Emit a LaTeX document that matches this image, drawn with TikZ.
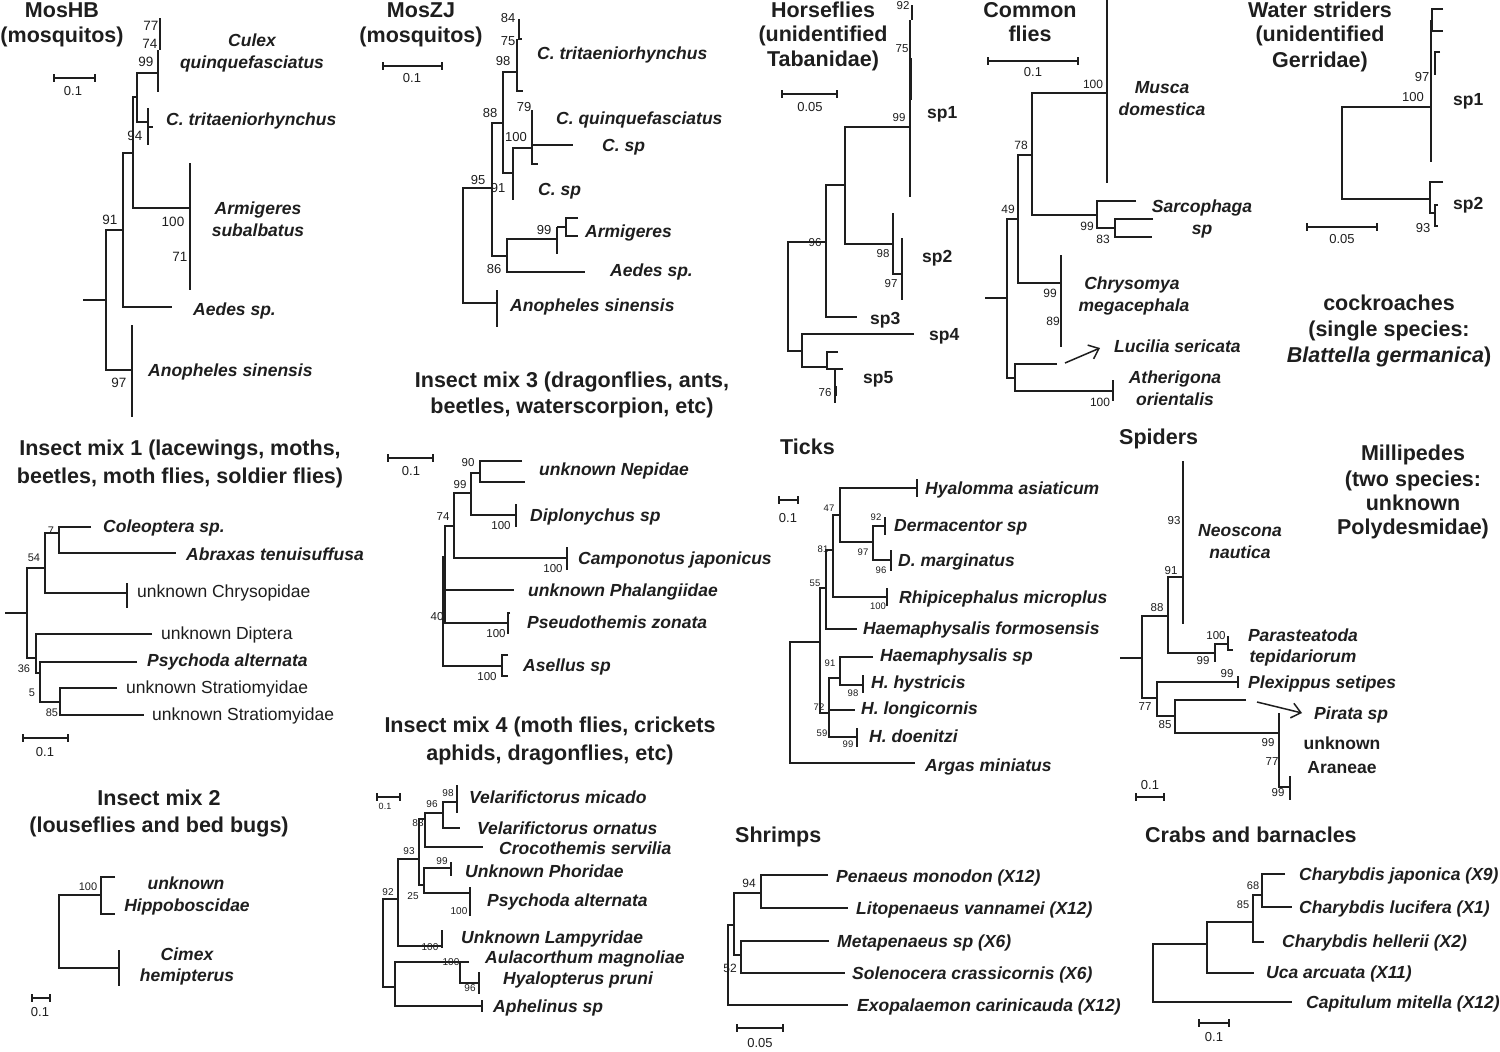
\documentclass[tikz,border=0pt]{standalone}
\usepackage{fontspec}
\setmainfont{Liberation Sans}
\usetikzlibrary{arrows.meta}
\definecolor{ink}{HTML}{1E1E1E}
\tikzset{
  br/.style={line width=1.7pt, draw=ink},
  thk/.style={line width=2.5pt, draw=ink},
  ttl/.style={font=\bfseries\fontsize{21.5}{24}\selectfont, text=ink, inner sep=0pt, text height=15.5pt, text depth=0pt},
  lb/.style={font=\bfseries\itshape\fontsize{17.5}{20}\selectfont, text=ink, inner sep=0pt, text height=12.6pt, text depth=0pt, anchor=west},
  lbc/.style={lb, anchor=center},
  lr/.style={font=\fontsize{17.5}{20}\selectfont, text=ink, inner sep=0pt, text height=12.6pt, text depth=0pt, anchor=west},
  lu/.style={font=\bfseries\fontsize{17.5}{20}\selectfont, text=ink, inner sep=0pt, text height=12.6pt, text depth=0pt, anchor=west},
  luc/.style={lu, anchor=center},
  bs/.style={font=\fontsize{#1}{#1}\selectfont, text=ink, inner sep=0pt},
  arr/.style={line width=1.5pt, draw=ink, -{Straight Barb[length=9pt,width=15pt,line width=1.5pt]}}
}
\newcommand\mybar[3]{\draw[br] (#1,#3) -- (#2,#3); \draw[br] (#1,#3-4) -- (#1,#3+4); \draw[br] (#2,#3-4) -- (#2,#3+4);}
\begin{document}
\begin{tikzpicture}[x=1pt,y=-1pt]
\fill[white] (0,0) rectangle (1500,1052);
\useasboundingbox (0,0) rectangle (1500,1052);

%================ MosHB
\node[ttl] (hbT1) at (62,10) {MosHB};
\node[ttl] (hbT2) at (62,35) {(mosquitos)};
\mybar{54}{95}{78}
\node[bs=13] (hbS) at (73,91) {0.1};
\draw[br] (83,300) -- (106,300);
\draw[br] (123,230) -| (106,370) -- (132,370);
\draw[br] (132,325) -- (132,417);
\draw[br] (133,153) -| (123,307) -- (172,307);
\draw[br] (137,97) -| (133,208) -- (190,208);
\draw[br] (190,163) -- (190,290);
\draw[thk] (190,165) -- (190,245);
\draw[br] (158,73) -| (137,122) -- (148,122);
\draw[br] (160,18) -- (160,50);
\draw[br] (158,50) -- (158,92);
\draw[thk] (158,50) -- (158,72);
\draw[br] (148,108) -- (148,145);
\draw[br] (148,127) -- (153,127);
\node[lbc] (hbL1) at (252,40) {Culex};
\node[lbc] (hbL2) at (252,62) {quinquefasciatus};
\node[lb] (hbL3) at (166,119) {C. tritaeniorhynchus};
\node[lbc] (hbL4) at (258,208) {Armigeres};
\node[lbc] (hbL5) at (258,230) {subalbatus};
\node[lb] (hbL6) at (193,309) {Aedes sp.};
\node[lb] (hbL7) at (148,370) {Anopheles sinensis};
\node[bs=13.5] (hb1) at (151,26) {77};
\node[bs=13.5] (hb2) at (150,44) {74};
\node[bs=13.5] (hb3) at (146,62) {99};
\node[bs=13.5] (hb4) at (135,136) {94};
\node[bs=13.5] (hb5) at (110,220) {91};
\node[bs=13.5] (hb6) at (173,222) {100};
\node[bs=13.5] (hb7) at (180,257) {71};
\node[bs=13.5] (hb8) at (119,383) {97};

%================ MosZJ
\node[ttl] (zjT1) at (421,10) {MosZJ};
\node[ttl] (zjT2) at (421,35) {(mosquitos)};
\mybar{383}{442}{66}
\node[bs=13] (zjS) at (412,78) {0.1};
\draw[br] (492,188) -| (463,303) -- (497,303);
\draw[br] (497,290) -- (497,327);
\draw[thk] (497,305) -- (497,327);
\draw[br] (503,123) -| (492,256) -- (507,256);
\draw[br] (557,239) -| (507,272) -- (585,272);
\draw[br] (557,227) -- (557,254);
\draw[br] (557,227) -- (566,227);
\draw[br] (578,218) -| (566,236) -- (578,236);
\draw[br] (517,72) -| (503,173) -- (513,173);
\draw[br] (519,19) -- (519,39) -- (522,39);
\draw[br] (517,39) -- (517,91) -- (523,91);
\draw[thk] (517,50) -- (517,73);
\draw[br] (532,148) -| (513,200);
\draw[br] (532,110) -- (532,164) -- (538,164);
\draw[thk] (532,113) -- (532,137);
\draw[br] (532,145) -- (573,145);
\node[lb] (zjL1) at (537,53) {C. tritaeniorhynchus};
\node[lb] (zjL2) at (556,118) {C. quinquefasciatus};
\node[lb] (zjL3) at (602,145) {C. sp};
\node[lb] (zjL4) at (538,189) {C. sp};
\node[lb] (zjL5) at (585,231) {Armigeres};
\node[lb] (zjL6) at (610,270) {Aedes sp.};
\node[lb] (zjL7) at (510,305) {Anopheles sinensis};
\node[bs=13] (zj1) at (508,18) {84};
\node[bs=13] (zj2) at (508,41) {75};
\node[bs=13] (zj3) at (503,61) {98};
\node[bs=13] (zj4) at (490,113) {88};
\node[bs=13] (zj5) at (524,107) {79};
\node[bs=13] (zj6) at (516,137) {100};
\node[bs=13] (zj7) at (478,180) {95};
\node[bs=13] (zj8) at (498,188) {91};
\node[bs=13] (zj9) at (544,230) {99};
\node[bs=13] (zj10) at (494,269) {86};

%================ Horseflies
\node[ttl] (hfT1) at (823,10) {Horseflies};
\node[ttl] (hfT2) at (823,34) {(unidentified};
\node[ttl] (hfT3) at (823,59) {Tabanidae)};
\mybar{782}{837}{94}
\node[bs=13] (hfS) at (810,107) {0.05};
\draw[br] (826,242) -| (788,351) -- (802,351);
\draw[br] (845,185) -| (826,317) -- (857,317);
\draw[br] (910,127) -| (845,244) -- (893,244);
\draw[br] (912,5) -- (912,20);
\draw[br] (910,20) -- (910,197);
\draw[thk] (911,58) -- (911,100);
\draw[br] (893,213) -- (893,274) -- (902,274);
\draw[br] (902,238) -- (902,300);
\draw[br] (914,334) -| (802,367) -- (827,367);
\draw[br] (838,352) -| (827,369) -- (835,369);
\draw[br] (843,369) -| (835,403);
\draw[thk] (836,386) -- (836,396);
\node[lu] (hfL1) at (927,112) {sp1};
\node[lu] (hfL2) at (922,256) {sp2};
\node[lu] (hfL3) at (870,318) {sp3};
\node[lu] (hfL4) at (929,334) {sp4};
\node[lu] (hfL5) at (863,377) {sp5};
\node[bs=11.5] (hf1) at (903,6) {92};
\node[bs=11.5] (hf2) at (902,49) {75};
\node[bs=11.5] (hf3) at (899,118) {99};
\node[bs=11.5] (hf4) at (815,243) {96};
\node[bs=11.5] (hf5) at (883,254) {98};
\node[bs=11.5] (hf6) at (891,284) {97};
\node[bs=11.5] (hf7) at (825,393) {76};

%================ Common flies
\node[ttl] (cfT1) at (1030,10) {Common};
\node[ttl] (cfT2) at (1030,34) {flies};
\mybar{988}{1078}{61}
\node[bs=13] (cfS) at (1033,72) {0.1};
\draw[br] (985,298) -- (1007,298);
\draw[br] (1018,219) -| (1007,378) -- (1015,378);
\draw[br] (1032,155) -| (1018,283) -- (1061,283);
\draw[br] (1107,93) -| (1032,215) -- (1097,215);
\draw[br] (1107,0) -- (1107,183);
\draw[br] (1136,201) -| (1097,228) -- (1115,228);
\draw[br] (1153,219) -| (1115,237) -- (1152,237);
\draw[br] (1061,255) -- (1061,347);
\draw[thk] (1061,270) -- (1061,300);
\draw[br] (1057,364) -| (1015,391) -- (1113,391);
\draw[br] (1113,380) -- (1113,401);
\coordinate (cfA1) at (1065,363);
\coordinate (cfA2) at (1100,348);
\draw[arr] (cfA1) -- (cfA2);
\node[lbc] (cfL1) at (1162,87) {Musca};
\node[lbc] (cfL2) at (1162,109) {domestica};
\node[lbc] (cfL3) at (1202,206) {Sarcophaga};
\node[lbc] (cfL4) at (1202,228) {sp};
\node[lbc] (cfL5) at (1132,283) {Chrysomya};
\node[lbc] (cfL6) at (1134,305) {megacephala};
\node[lb] (cfL7) at (1114,346) {Lucilia sericata};
\node[lbc] (cfL8) at (1175,377) {Atherigona};
\node[lbc] (cfL9) at (1175,399) {orientalis};
\node[bs=12] (cf1) at (1093,84) {100};
\node[bs=12] (cf2) at (1021,145) {78};
\node[bs=12] (cf3) at (1008,209) {49};
\node[bs=12] (cf4) at (1087,226) {99};
\node[bs=12] (cf5) at (1103,239) {83};
\node[bs=12] (cf6) at (1050,293) {99};
\node[bs=12] (cf7) at (1053,321) {89};
\node[bs=12] (cf8) at (1100,402) {100};

%================ Water striders
\node[ttl] (wsT1) at (1320,10) {Water striders};
\node[ttl] (wsT2) at (1320,34) {(unidentified};
\node[ttl] (wsT3) at (1320,60) {Gerridae)};
\mybar{1307}{1377}{227}
\node[bs=13] (wsS) at (1342,239) {0.05};
\draw[br] (1431,107) -| (1342,199) -- (1430,199);
\draw[br] (1431,20) -- (1431,162);
\draw[thk] (1431,62) -- (1431,118);
\draw[br] (1431,20) -- (1432,20);
\draw[br] (1443,9) -| (1432,31) -- (1443,31);
\draw[br] (1440,52) -| (1435,75);
\draw[br] (1443,182) -| (1430,213) -- (1435,213);
\draw[br] (1438,205) -| (1435,226) -- (1438,226);
\node[lu] (wsL1) at (1453,99) {sp1};
\node[lu] (wsL2) at (1453,203) {sp2};
\node[bs=13] (ws1) at (1422,77) {97};
\node[bs=13] (ws2) at (1413,97) {100};
\node[bs=13] (ws3) at (1423,228) {93};

%================ Cockroaches
\node[ttl] (crT1) at (1389,303) {cockroaches};
\node[ttl] (crT2) at (1389,329) {(single species:};
\node[ttl] (crT3) at (1389,355) {{\itshape Blattella germanica})};

%================ Insect mix 1
\node[ttl] (m1T1) at (180,448) {Insect mix 1 (lacewings, moths,};
\node[ttl] (m1T2) at (180,476) {beetles, moth flies, soldier flies)};
\mybar{23}{68}{738}
\node[bs=13] (m1S) at (45,752) {0.1};
\draw[br] (5,613) -- (27,613);
\draw[br] (45,568) -| (27,658) -- (36,658);
\draw[br] (59,533) -| (45,593) -- (127,593);
\draw[br] (127,583) -- (127,608);
\draw[br] (91,527) -| (59,553) -- (176,553);
\draw[br] (152,634) -| (36,673) -- (40,673);
\draw[br] (137,662) -| (40,702) -- (60,702);
\draw[br] (117,688) -| (60,715) -- (144,715);
\node[lb] (m1L1) at (103,526) {Coleoptera sp.};
\node[lb] (m1L2) at (186,554) {Abraxas tenuisuffusa};
\node[lr] (m1L3) at (137,591) {unknown Chrysopidae};
\node[lr] (m1L4) at (161,633) {unknown Diptera};
\node[lb] (m1L5) at (147,660) {Psychoda alternata};
\node[lr] (m1L6) at (126,687) {unknown Stratiomyidae};
\node[lr] (m1L7) at (152,714) {unknown Stratiomyidae};
\node[bs=11] (m11) at (51,531) {7};
\node[bs=11] (m12) at (34,558) {54};
\node[bs=11] (m13) at (24,669) {36};
\node[bs=11] (m14) at (32,693) {5};
\node[bs=11] (m15) at (52,713) {85};

%================ Insect mix 2
\node[ttl] (m2T1) at (159,798) {Insect mix 2};
\node[ttl] (m2T2) at (159,825) {(louseflies and bed bugs)};
\mybar{32}{50}{998}
\node[bs=13] (m2S) at (40,1012) {0.1};
\draw[br] (101,895) -| (59,968) -- (119,968);
\draw[br] (119,950) -- (119,986);
\draw[br] (115,877) -| (101,914) -- (115,914);
\node[lbc] (m2L1) at (186,883) {unknown};
\node[lbc] (m2L2) at (187,905) {Hippoboscidae};
\node[lbc] (m2L3) at (187,954) {Cimex};
\node[lbc] (m2L4) at (187,975) {hemipterus};
\node[bs=11] (m21) at (88,887) {100};

%================ Insect mix 3
\node[ttl] (m3T1) at (572,380) {Insect mix 3 (dragonflies, ants,};
\node[ttl] (m3T2) at (572,406) {beetles, waterscorpion, etc)};
\mybar{388}{433}{458}
\node[bs=13] (m3S) at (411,471) {0.1};
\draw[br] (445,557) -- (443,557) -- (443,666) -- (502,666);
\draw[thk] (444,557) -- (444,623);
\draw[br] (454,526) -| (445,623) -- (508,623);
\draw[br] (445,590) -- (514,590);
\draw[br] (508,655) -| (502,676) -- (508,676);
\draw[br] (510,613) -- (508,613) -- (508,634);
\draw[br] (471,493) -| (454,558) -- (567,558);
\draw[br] (567,547) -- (567,570);
\draw[br] (480,473) -| (471,515) -- (516,515);
\draw[br] (516,504) -- (516,527);
\draw[br] (522,461) -| (480,482) -- (525,482);
\node[lb] (m3L1) at (539,469) {unknown Nepidae};
\node[lb] (m3L2) at (530,515) {Diplonychus sp};
\node[lb] (m3L3) at (578,558) {Camponotus japonicus};
\node[lb] (m3L4) at (528,590) {unknown Phalangiidae};
\node[lb] (m3L5) at (527,622) {Pseudothemis zonata};
\node[lb] (m3L6) at (523,665) {Asellus sp};
\node[bs=11.5] (m31) at (468,463) {90};
\node[bs=11.5] (m32) at (460,485) {99};
\node[bs=11.5] (m33) at (443,517) {74};
\node[bs=11.5] (m34) at (501,526) {100};
\node[bs=11.5] (m35) at (553,569) {100};
\node[bs=11.5] (m36) at (437,617) {40};
\node[bs=11.5] (m37) at (496,634) {100};
\node[bs=11.5] (m38) at (487,677) {100};

%================ Insect mix 4
\node[ttl] (m4T1) at (550,725) {Insect mix 4 (moth flies, crickets};
\node[ttl] (m4T2) at (550,753) {aphids, dragonflies, etc)};
\mybar{377}{400}{797}
\node[bs=9] (m4S) at (385,806) {0.1};
\draw[br] (398,899) -| (383,987) -- (395,987);
\draw[br] (460,962) -| (395,1006) -- (482,1006);
\draw[br] (482,1000) -- (482,1012);
\draw[br] (469,962) -- (460,962) -- (460,983) -- (479,983);
\draw[br] (479,972) -- (479,994);
\draw[br] (419,859) -| (398,946) -- (442,946);
\draw[br] (442,930) -- (442,948);
\draw[br] (425,819) -| (419,885) -- (424,885);
\draw[br] (443,813) -| (425,847) -- (483,847);
\draw[br] (457,802) -| (443,828) -- (460,828);
\draw[br] (457,785) -- (457,813);
\draw[br] (451,868) -| (424,893) -- (470,893);
\draw[br] (451,862) -- (451,876);
\draw[br] (470,887) -- (470,916);
\node[lb] (m4L1) at (469,797) {Velarifictorus micado};
\node[lb] (m4L2) at (477,828) {Velarifictorus ornatus};
\node[lb] (m4L3) at (499,848) {Crocothemis servilia};
\node[lb] (m4L4) at (465,871) {Unknown Phoridae};
\node[lb] (m4L5) at (487,900) {Psychoda alternata};
\node[lb] (m4L6) at (461,937) {Unknown Lampyridae};
\node[lb] (m4L7) at (485,957) {Aulacorthum magnoliae};
\node[lb] (m4L8) at (503,978) {Hyalopterus pruni};
\node[lb] (m4L9) at (493,1006) {Aphelinus sp};
\node[bs=10] (m41) at (448,793) {98};
\node[bs=10] (m42) at (432,804) {96};
\node[bs=10] (m43) at (418,823) {83};
\node[bs=10] (m44) at (409,851) {93};
\node[bs=10] (m45) at (442,861) {99};
\node[bs=10] (m46) at (388,892) {92};
\node[bs=10] (m47) at (413,896) {25};
\node[bs=10] (m48) at (459,911) {100};
\node[bs=10] (m49) at (430,947) {100};
\node[bs=10] (m410) at (451,962) {100};
\node[bs=10] (m411) at (470,988) {96};

%================ Ticks
\node[ttl, anchor=west] (tkT) at (780,447) {Ticks};
\mybar{779}{798}{500}
\node[bs=13] (tkS) at (788,518) {0.1};
\draw[br] (820,642) -| (790,763) -- (915,763);
\draw[br] (826,588) -| (820,713) -- (829,713);
\draw[br] (833,550) -| (826,629) -- (857,629);
\draw[br] (840,515) -| (833,597) -- (887,597);
\draw[br] (887,588) -- (887,606);
\draw[br] (917,488) -| (840,542) -- (873,542);
\draw[br] (917,479) -- (917,497);
\draw[br] (885,526) -| (873,560) -- (891,560);
\draw[br] (885,517) -- (885,535);
\draw[br] (891,550) -- (891,571);
\draw[br] (840,678) -- (829,678) -- (829,737) -- (857,737);
\draw[br] (857,728) -- (857,747);
\draw[thk] (829,708) -- (829,724);
\draw[br] (829,710) -- (855,710);
\draw[br] (873,657) -| (840,685) -- (863,685);
\draw[br] (863,675) -- (863,693);
\node[lb] (tkL1) at (925,488) {Hyalomma asiaticum};
\node[lb] (tkL2) at (894,525) {Dermacentor sp};
\node[lb] (tkL3) at (898,560) {D. marginatus};
\node[lb] (tkL4) at (899,597) {Rhipicephalus microplus};
\node[lb] (tkL5) at (863,628) {Haemaphysalis formosensis};
\node[lb] (tkL6) at (880,655) {Haemaphysalis sp};
\node[lb] (tkL7) at (871,682) {H. hystricis};
\node[lb] (tkL8) at (861,708) {H. longicornis};
\node[lb] (tkL9) at (869,736) {H. doenitzi};
\node[lb] (tkL10) at (925,765) {Argas miniatus};
\node[bs=9.5] (tk1) at (829,508) {47};
\node[bs=9.5] (tk2) at (876,517) {92};
\node[bs=9.5] (tk3) at (823,549) {81};
\node[bs=9.5] (tk4) at (863,552) {97};
\node[bs=9.5] (tk5) at (881,570) {96};
\node[bs=9.5] (tk6) at (815,583) {55};
\node[bs=9.5] (tk7) at (878,606) {100};
\node[bs=9.5] (tk8) at (830,663) {91};
\node[bs=9.5] (tk9) at (853,693) {98};
\node[bs=9.5] (tk10) at (819,707) {72};
\node[bs=9.5] (tk11) at (822,733) {59};
\node[bs=9.5] (tk12) at (848,744) {99};

%================ Spiders
\node[ttl, anchor=west] (spT) at (1119,437) {Spiders};
\mybar{1136}{1164}{797}
\node[bs=13] (spS) at (1150,785) {0.1};
\draw[br] (1120,658) -- (1142,658);
\draw[br] (1168,616) -| (1142,698) -- (1157,698);
\draw[br] (1183,577) -| (1168,653) -- (1215,653);
\draw[br] (1183,461) -- (1183,624);
\draw[thk] (1183,520) -- (1183,607);
\draw[br] (1228,644) -| (1215,662);
\draw[br] (1228,636) -- (1228,650) -- (1233,650);
\draw[br] (1238,682) -| (1157,716) -- (1175,716);
\draw[br] (1238,676) -- (1238,688);
\draw[br] (1246,700) -| (1175,733) -- (1279,733);
\draw[br] (1279,713) -- (1279,787) -- (1290,787);
\draw[br] (1290,776) -- (1290,800);
\draw[thk] (1290,786) -- (1290,799);
\coordinate (spA1) at (1257,702);
\coordinate (spA2) at (1302,713);
\draw[arr] (spA1) -- (spA2);
\node[lbc] (spL1) at (1240,530) {Neoscona};
\node[lbc] (spL2) at (1240,552) {nautica};
\node[lbc] (spL3) at (1303,635) {Parasteatoda};
\node[lbc] (spL4) at (1303,656) {tepidariorum};
\node[lb] (spL5) at (1248,682) {Plexippus setipes};
\node[lb] (spL6) at (1314,713) {Pirata sp};
\node[luc] (spL7) at (1342,743) {unknown};
\node[luc] (spL8) at (1342,767) {Araneae};
\node[bs=11.5] (sp1) at (1174,521) {93};
\node[bs=11.5] (sp2) at (1171,571) {91};
\node[bs=11.5] (sp3) at (1157,608) {88};
\node[bs=11.5] (sp4) at (1216,636) {100};
\node[bs=11.5] (sp5) at (1203,661) {99};
\node[bs=11.5] (sp6) at (1227,674) {99};
\node[bs=11.5] (sp7) at (1145,707) {77};
\node[bs=11.5] (sp8) at (1165,725) {85};
\node[bs=11.5] (sp9) at (1268,743) {99};
\node[bs=11.5] (sp10) at (1272,762) {77};
\node[bs=11.5] (sp11) at (1278,793) {99};

%================ Millipedes
\node[ttl] (miT1) at (1413,453) {Millipedes};
\node[ttl] (miT2) at (1413,479) {(two species:};
\node[ttl] (miT3) at (1413,503) {unknown};
\node[ttl] (miT4) at (1413,527) {Polydesmidae)};

%================ Shrimps
\node[ttl, anchor=west] (shT) at (735,835) {Shrimps};
\mybar{737}{783}{1028}
\node[bs=13] (shS) at (760,1043) {0.05};
\draw[br] (734,925) -| (728,1005) -- (848,1005);
\draw[br] (761,893) -| (734,955) -- (741,955);
\draw[br] (828,875) -| (761,908) -- (848,908);
\draw[br] (829,941) -| (741,973) -- (845,973);
\node[lb] (shL1) at (836,876) {Penaeus monodon (X12)};
\node[lb] (shL2) at (856,908) {Litopenaeus vannamei (X12)};
\node[lb] (shL3) at (837,941) {Metapenaeus sp (X6)};
\node[lb] (shL4) at (852,973) {Solenocera crassicornis (X6)};
\node[lb] (shL5) at (857,1005) {Exopalaemon carinicauda (X12)};
\node[bs=12] (sh1) at (749,883) {94};
\node[bs=12] (sh2) at (730,968) {52};

%================ Crabs
\node[ttl, anchor=west] (cbT) at (1145,835) {Crabs and barnacles};
\mybar{1199}{1229}{1023}
\node[bs=13] (cbS) at (1214,1037) {0.1};
\draw[br] (1207,944) -| (1153,1002) -- (1292,1002);
\draw[br] (1253,922) -| (1207,973) -- (1254,973);
\draw[br] (1262,895) -| (1253,942) -- (1264,942);
\draw[br] (1285,874) -| (1262,907) -- (1292,907);
\node[lb] (cbL1) at (1299,874) {Charybdis japonica (X9)};
\node[lb] (cbL2) at (1299,907) {Charybdis lucifera (X1)};
\node[lb] (cbL3) at (1282,941) {Charybdis hellerii (X2)};
\node[lb] (cbL4) at (1266,972) {Uca arcuata (X11)};
\node[lb] (cbL5) at (1306,1002) {Capitulum mitella (X12)};
\node[bs=11] (cb1) at (1243,905) {85};
\node[bs=11] (cb2) at (1253,886) {68};
\end{tikzpicture}
\end{document}
